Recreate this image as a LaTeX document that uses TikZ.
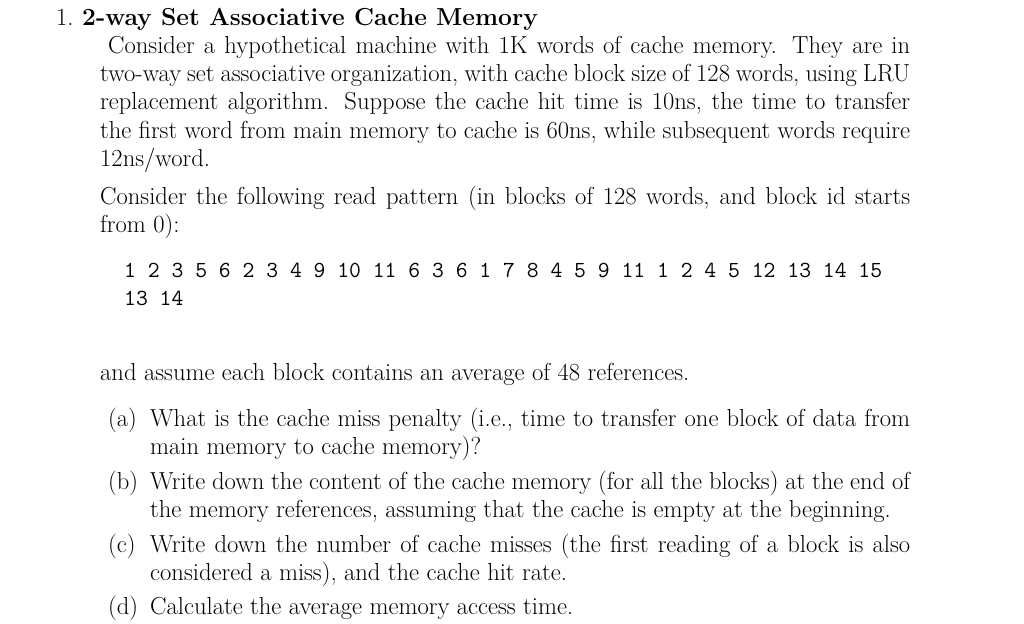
\documentclass[tikz,border=0pt]{standalone}
\newcommand{\jl}[2]{\makebox[#1pt][s]{#2}}
\begin{document}
\begin{tikzpicture}[x=1pt,y=1pt,
  txt/.style={anchor=base west,inner sep=0pt,font=\fontsize{24.6}{28}\selectfont},
  mono/.style={anchor=base west,inner sep=0pt,font=\fontsize{23}{26}\selectfont\ttfamily}]
\useasboundingbox (0,0) rectangle (1024,-623);
\node[txt] (n1) at (56,-26) {1.};
\node[txt] (t) at (82,-26) {\bfseries 2-way Set Associative Cache Memory};
\node[txt] (p1) at (108,-54) {\jl{802}{Consider a hypothetical machine with 1K words of cache memory. They are in}};
\node[txt] (p2) at (100,-82) {\jl{810}{two-way set associative organization, with cache block size of 128 words, using LRU}};
\node[txt] (p3) at (100,-110) {\jl{810}{replacement algorithm. Suppose the cache hit time is 10ns, the time to transfer}};
\node[txt] (p4) at (100,-138) {\jl{810}{the first word from main memory to cache is 60ns, while subsequent words require}};
\node[txt] (p5) at (100,-166) {12ns/word.};
\node[txt] (q1) at (100,-204) {\jl{810}{Consider the following read pattern (in blocks of 128 words, and block id starts}};
\node[txt] (q2) at (100,-232) {from 0):};
\node[mono] (m1) at (124,-277) {\jl{763}{1 2 3 5 6 2 3 4 9 10 11 6 3 6 1 7 8 4 5 9 11 1 2 4 5 12 13 14 15}};
\node[mono] (m2) at (124,-305) {13 14};
\node[txt] (r) at (100,-380) {and assume each block contains an average of 48 references.};
\node[txt] (la) at (108,-426) {(a)};
\node[txt] (a1) at (150,-426) {\jl{760}{What is the cache miss penalty (i.e., time to transfer one block of data from}};
\node[txt] (a2) at (150,-454) {main memory to cache memory)?};
\node[txt] (lb) at (108,-489) {(b)};
\node[txt] (b1) at (150,-489) {\jl{760}{Write down the content of the cache memory (for all the blocks) at the end of}};
\node[txt] (b2) at (150,-517) {the memory references, assuming that the cache is empty at the beginning.};
\node[txt] (lc) at (108,-552) {(c)};
\node[txt] (c1) at (150,-552) {\jl{760}{Write down the number of cache misses (the first reading of a block is also}};
\node[txt] (c2) at (150,-580) {considered a miss), and the cache hit rate.};
\node[txt] (ld) at (108,-614) {(d)};
\node[txt] (d1) at (150,-614) {Calculate the average memory access time.};
\end{tikzpicture}
\end{document}
